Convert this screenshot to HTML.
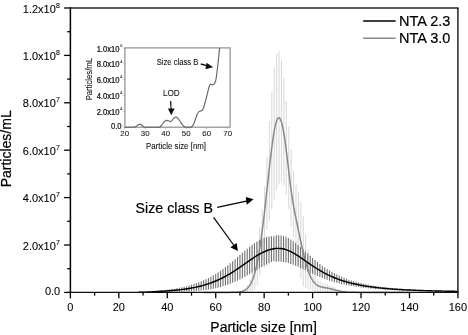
<!DOCTYPE html>
<html><head><meta charset="utf-8"><style>
html,body{margin:0;padding:0;background:#fff;}
svg{display:block;}
</style></head><body>
<svg width="468" height="335" viewBox="0 0 468 335">
<defs><filter id="ib" x="-5%" y="-5%" width="110%" height="110%"><feGaussianBlur stdDeviation="0.35"/></filter></defs>
<rect width="468" height="335" fill="#fff"/>
<line x1="242.71" y1="290.29" x2="242.71" y2="292.25" stroke="#dadada" stroke-width="1.1"/>
<line x1="245.13" y1="288.36" x2="245.13" y2="292.12" stroke="#dadada" stroke-width="1.1"/>
<line x1="247.56" y1="285.02" x2="247.56" y2="291.89" stroke="#dadada" stroke-width="1.1"/>
<line x1="249.98" y1="279.50" x2="249.98" y2="291.50" stroke="#dadada" stroke-width="1.1"/>
<line x1="252.40" y1="270.83" x2="252.40" y2="290.90" stroke="#dadada" stroke-width="1.1"/>
<line x1="254.82" y1="258.15" x2="254.82" y2="289.74" stroke="#dadada" stroke-width="1.1"/>
<line x1="257.24" y1="243.07" x2="257.24" y2="285.28" stroke="#dadada" stroke-width="1.1"/>
<line x1="259.67" y1="226.87" x2="259.67" y2="275.33" stroke="#dadada" stroke-width="1.1"/>
<line x1="262.09" y1="209.24" x2="262.09" y2="259.98" stroke="#dadada" stroke-width="1.1"/>
<line x1="264.51" y1="186.42" x2="264.51" y2="243.68" stroke="#dadada" stroke-width="1.1"/>
<line x1="266.93" y1="156.74" x2="266.93" y2="230.02" stroke="#dadada" stroke-width="1.1"/>
<line x1="269.35" y1="121.05" x2="269.35" y2="221.25" stroke="#dadada" stroke-width="1.1"/>
<line x1="271.78" y1="91.42" x2="271.78" y2="209.36" stroke="#dadada" stroke-width="1.1"/>
<line x1="274.20" y1="67.49" x2="274.20" y2="199.17" stroke="#dadada" stroke-width="1.1"/>
<line x1="276.62" y1="53.98" x2="276.62" y2="189.95" stroke="#dadada" stroke-width="1.1"/>
<line x1="279.04" y1="50.90" x2="279.04" y2="184.58" stroke="#dadada" stroke-width="1.1"/>
<line x1="281.46" y1="60.14" x2="281.46" y2="182.10" stroke="#dadada" stroke-width="1.1"/>
<line x1="283.89" y1="77.91" x2="283.89" y2="185.22" stroke="#dadada" stroke-width="1.1"/>
<line x1="286.31" y1="100.90" x2="286.31" y2="194.68" stroke="#dadada" stroke-width="1.1"/>
<line x1="288.73" y1="126.97" x2="288.73" y2="208.83" stroke="#dadada" stroke-width="1.1"/>
<line x1="291.15" y1="149.35" x2="291.15" y2="226.62" stroke="#dadada" stroke-width="1.1"/>
<line x1="293.57" y1="171.26" x2="293.57" y2="236.70" stroke="#dadada" stroke-width="1.1"/>
<line x1="296.00" y1="184.55" x2="296.00" y2="249.14" stroke="#dadada" stroke-width="1.1"/>
<line x1="298.42" y1="192.19" x2="298.42" y2="264.98" stroke="#dadada" stroke-width="1.1"/>
<line x1="300.84" y1="201.82" x2="300.84" y2="278.44" stroke="#dadada" stroke-width="1.1"/>
<line x1="303.26" y1="216.30" x2="303.26" y2="286.20" stroke="#dadada" stroke-width="1.1"/>
<line x1="305.68" y1="234.08" x2="305.68" y2="288.35" stroke="#dadada" stroke-width="1.1"/>
<line x1="308.11" y1="249.49" x2="308.11" y2="289.42" stroke="#dadada" stroke-width="1.1"/>
<line x1="310.53" y1="261.35" x2="310.53" y2="290.24" stroke="#dadada" stroke-width="1.1"/>
<line x1="312.95" y1="269.89" x2="312.95" y2="290.83" stroke="#dadada" stroke-width="1.1"/>
<line x1="315.37" y1="275.65" x2="315.37" y2="291.24" stroke="#dadada" stroke-width="1.1"/>
<line x1="317.79" y1="279.27" x2="317.79" y2="291.49" stroke="#dadada" stroke-width="1.1"/>
<line x1="320.22" y1="281.41" x2="320.22" y2="291.64" stroke="#dadada" stroke-width="1.1"/>
<line x1="322.64" y1="282.66" x2="322.64" y2="291.72" stroke="#dadada" stroke-width="1.1"/>
<line x1="325.06" y1="283.50" x2="325.06" y2="291.78" stroke="#dadada" stroke-width="1.1"/>
<line x1="327.48" y1="284.28" x2="327.48" y2="291.84" stroke="#dadada" stroke-width="1.1"/>
<line x1="329.90" y1="285.19" x2="329.90" y2="291.90" stroke="#dadada" stroke-width="1.1"/>
<line x1="332.33" y1="286.26" x2="332.33" y2="291.97" stroke="#dadada" stroke-width="1.1"/>
<line x1="334.75" y1="287.45" x2="334.75" y2="292.06" stroke="#dadada" stroke-width="1.1"/>
<line x1="337.17" y1="288.63" x2="337.17" y2="292.14" stroke="#dadada" stroke-width="1.1"/>
<line x1="339.59" y1="289.70" x2="339.59" y2="292.21" stroke="#dadada" stroke-width="1.1"/>
<line x1="342.01" y1="290.59" x2="342.01" y2="292.27" stroke="#dadada" stroke-width="1.1"/>
<line x1="143.06" y1="292.11" x2="143.06" y2="292.36" stroke="#707070" stroke-width="1.1"/>
<line x1="145.48" y1="291.96" x2="145.48" y2="292.34" stroke="#707070" stroke-width="1.1"/>
<line x1="147.90" y1="291.78" x2="147.90" y2="292.31" stroke="#707070" stroke-width="1.1"/>
<line x1="150.33" y1="291.56" x2="150.33" y2="292.28" stroke="#707070" stroke-width="1.1"/>
<line x1="152.75" y1="291.32" x2="152.75" y2="292.25" stroke="#707070" stroke-width="1.1"/>
<line x1="155.17" y1="291.07" x2="155.17" y2="292.21" stroke="#707070" stroke-width="1.1"/>
<line x1="157.59" y1="290.81" x2="157.59" y2="292.17" stroke="#707070" stroke-width="1.1"/>
<line x1="160.01" y1="290.55" x2="160.01" y2="292.14" stroke="#707070" stroke-width="1.1"/>
<line x1="162.44" y1="290.28" x2="162.44" y2="292.10" stroke="#707070" stroke-width="1.1"/>
<line x1="164.86" y1="290.00" x2="164.86" y2="292.06" stroke="#707070" stroke-width="1.1"/>
<line x1="167.28" y1="289.70" x2="167.28" y2="292.01" stroke="#707070" stroke-width="1.1"/>
<line x1="169.70" y1="289.39" x2="169.70" y2="291.97" stroke="#707070" stroke-width="1.1"/>
<line x1="172.12" y1="289.04" x2="172.12" y2="291.92" stroke="#707070" stroke-width="1.1"/>
<line x1="174.55" y1="288.67" x2="174.55" y2="291.87" stroke="#707070" stroke-width="1.1"/>
<line x1="176.97" y1="288.26" x2="176.97" y2="291.81" stroke="#707070" stroke-width="1.1"/>
<line x1="179.39" y1="287.81" x2="179.39" y2="291.74" stroke="#707070" stroke-width="1.1"/>
<line x1="181.81" y1="287.32" x2="181.81" y2="291.67" stroke="#707070" stroke-width="1.1"/>
<line x1="184.23" y1="286.78" x2="184.23" y2="291.60" stroke="#707070" stroke-width="1.1"/>
<line x1="186.66" y1="286.18" x2="186.66" y2="291.51" stroke="#707070" stroke-width="1.1"/>
<line x1="189.08" y1="285.51" x2="189.08" y2="291.42" stroke="#707070" stroke-width="1.1"/>
<line x1="191.50" y1="284.79" x2="191.50" y2="291.31" stroke="#707070" stroke-width="1.1"/>
<line x1="193.92" y1="283.99" x2="193.92" y2="291.20" stroke="#707070" stroke-width="1.1"/>
<line x1="196.34" y1="283.12" x2="196.34" y2="291.06" stroke="#707070" stroke-width="1.1"/>
<line x1="198.77" y1="282.24" x2="198.77" y2="290.84" stroke="#707070" stroke-width="1.1"/>
<line x1="201.19" y1="281.29" x2="201.19" y2="290.59" stroke="#707070" stroke-width="1.1"/>
<line x1="203.61" y1="280.26" x2="203.61" y2="290.30" stroke="#707070" stroke-width="1.1"/>
<line x1="206.03" y1="279.15" x2="206.03" y2="289.97" stroke="#707070" stroke-width="1.1"/>
<line x1="208.45" y1="277.96" x2="208.45" y2="289.61" stroke="#707070" stroke-width="1.1"/>
<line x1="210.88" y1="276.68" x2="210.88" y2="289.20" stroke="#707070" stroke-width="1.1"/>
<line x1="213.30" y1="275.31" x2="213.30" y2="288.74" stroke="#707070" stroke-width="1.1"/>
<line x1="215.72" y1="273.85" x2="215.72" y2="288.22" stroke="#707070" stroke-width="1.1"/>
<line x1="218.14" y1="272.30" x2="218.14" y2="287.65" stroke="#707070" stroke-width="1.1"/>
<line x1="220.56" y1="270.66" x2="220.56" y2="287.02" stroke="#707070" stroke-width="1.1"/>
<line x1="222.99" y1="268.93" x2="222.99" y2="286.33" stroke="#707070" stroke-width="1.1"/>
<line x1="225.41" y1="267.12" x2="225.41" y2="285.57" stroke="#707070" stroke-width="1.1"/>
<line x1="227.83" y1="265.23" x2="227.83" y2="284.74" stroke="#707070" stroke-width="1.1"/>
<line x1="230.25" y1="263.27" x2="230.25" y2="283.83" stroke="#707070" stroke-width="1.1"/>
<line x1="232.67" y1="261.25" x2="232.67" y2="282.86" stroke="#707070" stroke-width="1.1"/>
<line x1="235.10" y1="259.18" x2="235.10" y2="281.81" stroke="#707070" stroke-width="1.1"/>
<line x1="237.52" y1="257.09" x2="237.52" y2="280.69" stroke="#707070" stroke-width="1.1"/>
<line x1="239.94" y1="254.97" x2="239.94" y2="279.50" stroke="#707070" stroke-width="1.1"/>
<line x1="242.36" y1="252.86" x2="242.36" y2="278.25" stroke="#707070" stroke-width="1.1"/>
<line x1="244.78" y1="250.77" x2="244.78" y2="276.94" stroke="#707070" stroke-width="1.1"/>
<line x1="247.21" y1="248.73" x2="247.21" y2="275.58" stroke="#707070" stroke-width="1.1"/>
<line x1="249.63" y1="246.76" x2="249.63" y2="274.18" stroke="#707070" stroke-width="1.1"/>
<line x1="252.05" y1="244.88" x2="252.05" y2="272.75" stroke="#707070" stroke-width="1.1"/>
<line x1="254.47" y1="243.13" x2="254.47" y2="271.31" stroke="#707070" stroke-width="1.1"/>
<line x1="256.89" y1="241.53" x2="256.89" y2="269.86" stroke="#707070" stroke-width="1.1"/>
<line x1="259.32" y1="240.10" x2="259.32" y2="268.43" stroke="#707070" stroke-width="1.1"/>
<line x1="261.74" y1="238.86" x2="261.74" y2="267.03" stroke="#707070" stroke-width="1.1"/>
<line x1="264.16" y1="237.85" x2="264.16" y2="265.68" stroke="#707070" stroke-width="1.1"/>
<line x1="266.58" y1="237.07" x2="266.58" y2="264.40" stroke="#707070" stroke-width="1.1"/>
<line x1="269.00" y1="236.54" x2="269.00" y2="263.21" stroke="#707070" stroke-width="1.1"/>
<line x1="271.43" y1="236.28" x2="271.43" y2="262.12" stroke="#707070" stroke-width="1.1"/>
<line x1="273.85" y1="236.29" x2="273.85" y2="261.15" stroke="#707070" stroke-width="1.1"/>
<line x1="276.27" y1="235.25" x2="276.27" y2="261.63" stroke="#707070" stroke-width="1.1"/>
<line x1="278.69" y1="235.16" x2="278.69" y2="261.58" stroke="#707070" stroke-width="1.1"/>
<line x1="281.11" y1="235.39" x2="281.11" y2="261.70" stroke="#707070" stroke-width="1.1"/>
<line x1="283.54" y1="235.96" x2="283.54" y2="262.01" stroke="#707070" stroke-width="1.1"/>
<line x1="285.96" y1="236.84" x2="285.96" y2="262.48" stroke="#707070" stroke-width="1.1"/>
<line x1="288.38" y1="238.01" x2="288.38" y2="263.12" stroke="#707070" stroke-width="1.1"/>
<line x1="290.80" y1="239.45" x2="290.80" y2="263.89" stroke="#707070" stroke-width="1.1"/>
<line x1="293.22" y1="241.11" x2="293.22" y2="264.78" stroke="#707070" stroke-width="1.1"/>
<line x1="295.65" y1="242.96" x2="295.65" y2="265.78" stroke="#707070" stroke-width="1.1"/>
<line x1="298.07" y1="244.96" x2="298.07" y2="266.85" stroke="#707070" stroke-width="1.1"/>
<line x1="300.49" y1="247.05" x2="300.49" y2="267.98" stroke="#707070" stroke-width="1.1"/>
<line x1="302.91" y1="249.22" x2="302.91" y2="269.15" stroke="#707070" stroke-width="1.1"/>
<line x1="305.33" y1="251.42" x2="305.33" y2="270.33" stroke="#707070" stroke-width="1.1"/>
<line x1="307.76" y1="253.62" x2="307.76" y2="271.52" stroke="#707070" stroke-width="1.1"/>
<line x1="310.18" y1="255.79" x2="310.18" y2="272.69" stroke="#707070" stroke-width="1.1"/>
<line x1="312.60" y1="257.92" x2="312.60" y2="273.84" stroke="#707070" stroke-width="1.1"/>
<line x1="315.02" y1="259.99" x2="315.02" y2="274.95" stroke="#707070" stroke-width="1.1"/>
<line x1="317.44" y1="261.98" x2="317.44" y2="276.02" stroke="#707070" stroke-width="1.1"/>
<line x1="319.87" y1="263.89" x2="319.87" y2="277.05" stroke="#707070" stroke-width="1.1"/>
<line x1="322.29" y1="265.70" x2="322.29" y2="278.02" stroke="#707070" stroke-width="1.1"/>
<line x1="324.71" y1="267.42" x2="324.71" y2="278.95" stroke="#707070" stroke-width="1.1"/>
<line x1="327.13" y1="269.04" x2="327.13" y2="279.82" stroke="#707070" stroke-width="1.1"/>
<line x1="329.55" y1="270.57" x2="329.55" y2="280.64" stroke="#707070" stroke-width="1.1"/>
<line x1="331.98" y1="271.99" x2="331.98" y2="281.41" stroke="#707070" stroke-width="1.1"/>
<line x1="334.40" y1="273.33" x2="334.40" y2="282.13" stroke="#707070" stroke-width="1.1"/>
<line x1="336.82" y1="274.58" x2="336.82" y2="282.80" stroke="#707070" stroke-width="1.1"/>
<line x1="339.24" y1="275.74" x2="339.24" y2="283.43" stroke="#707070" stroke-width="1.1"/>
<line x1="341.66" y1="276.83" x2="341.66" y2="284.01" stroke="#707070" stroke-width="1.1"/>
<line x1="344.09" y1="277.84" x2="344.09" y2="284.56" stroke="#707070" stroke-width="1.1"/>
<line x1="346.51" y1="278.77" x2="346.51" y2="285.06" stroke="#707070" stroke-width="1.1"/>
<line x1="348.93" y1="279.64" x2="348.93" y2="285.53" stroke="#707070" stroke-width="1.1"/>
<line x1="351.35" y1="280.45" x2="351.35" y2="285.96" stroke="#707070" stroke-width="1.1"/>
<line x1="353.77" y1="281.20" x2="353.77" y2="286.37" stroke="#707070" stroke-width="1.1"/>
<line x1="356.20" y1="281.90" x2="356.20" y2="286.74" stroke="#707070" stroke-width="1.1"/>
<line x1="358.62" y1="282.54" x2="358.62" y2="287.09" stroke="#707070" stroke-width="1.1"/>
<line x1="361.04" y1="283.14" x2="361.04" y2="287.41" stroke="#707070" stroke-width="1.1"/>
<line x1="363.46" y1="283.70" x2="363.46" y2="287.71" stroke="#707070" stroke-width="1.1"/>
<line x1="365.88" y1="284.22" x2="365.88" y2="287.99" stroke="#707070" stroke-width="1.1"/>
<line x1="368.31" y1="284.70" x2="368.31" y2="288.25" stroke="#707070" stroke-width="1.1"/>
<line x1="370.73" y1="285.15" x2="370.73" y2="288.49" stroke="#707070" stroke-width="1.1"/>
<line x1="373.15" y1="285.56" x2="373.15" y2="288.72" stroke="#707070" stroke-width="1.1"/>
<line x1="375.57" y1="285.95" x2="375.57" y2="288.93" stroke="#707070" stroke-width="1.1"/>
<line x1="377.99" y1="286.31" x2="377.99" y2="289.12" stroke="#707070" stroke-width="1.1"/>
<line x1="380.42" y1="286.65" x2="380.42" y2="289.30" stroke="#707070" stroke-width="1.1"/>
<line x1="382.84" y1="286.96" x2="382.84" y2="289.47" stroke="#707070" stroke-width="1.1"/>
<line x1="385.26" y1="287.26" x2="385.26" y2="289.63" stroke="#707070" stroke-width="1.1"/>
<line x1="387.68" y1="287.53" x2="387.68" y2="289.78" stroke="#707070" stroke-width="1.1"/>
<line x1="390.10" y1="287.79" x2="390.10" y2="289.92" stroke="#707070" stroke-width="1.1"/>
<line x1="392.53" y1="288.02" x2="392.53" y2="290.04" stroke="#707070" stroke-width="1.1"/>
<line x1="394.95" y1="288.25" x2="394.95" y2="290.16" stroke="#707070" stroke-width="1.1"/>
<line x1="397.37" y1="288.46" x2="397.37" y2="290.28" stroke="#707070" stroke-width="1.1"/>
<line x1="399.79" y1="288.66" x2="399.79" y2="290.38" stroke="#707070" stroke-width="1.1"/>
<line x1="402.21" y1="288.84" x2="402.21" y2="290.48" stroke="#707070" stroke-width="1.1"/>
<line x1="404.64" y1="289.01" x2="404.64" y2="290.58" stroke="#707070" stroke-width="1.1"/>
<line x1="407.06" y1="289.18" x2="407.06" y2="290.66" stroke="#707070" stroke-width="1.1"/>
<line x1="409.48" y1="289.33" x2="409.48" y2="290.75" stroke="#707070" stroke-width="1.1"/>
<line x1="411.90" y1="289.47" x2="411.90" y2="290.82" stroke="#707070" stroke-width="1.1"/>
<line x1="414.32" y1="289.61" x2="414.32" y2="290.90" stroke="#707070" stroke-width="1.1"/>
<line x1="416.75" y1="289.74" x2="416.75" y2="290.97" stroke="#707070" stroke-width="1.1"/>
<line x1="419.17" y1="289.86" x2="419.17" y2="291.03" stroke="#707070" stroke-width="1.1"/>
<line x1="421.59" y1="289.97" x2="421.59" y2="291.09" stroke="#707070" stroke-width="1.1"/>
<line x1="424.01" y1="290.08" x2="424.01" y2="291.15" stroke="#707070" stroke-width="1.1"/>
<line x1="426.43" y1="290.18" x2="426.43" y2="291.20" stroke="#707070" stroke-width="1.1"/>
<line x1="428.86" y1="290.27" x2="428.86" y2="291.25" stroke="#707070" stroke-width="1.1"/>
<line x1="431.28" y1="290.36" x2="431.28" y2="291.30" stroke="#707070" stroke-width="1.1"/>
<line x1="433.70" y1="290.45" x2="433.70" y2="291.35" stroke="#707070" stroke-width="1.1"/>
<line x1="436.12" y1="290.53" x2="436.12" y2="291.39" stroke="#707070" stroke-width="1.1"/>
<line x1="438.54" y1="290.61" x2="438.54" y2="291.43" stroke="#707070" stroke-width="1.1"/>
<line x1="440.97" y1="290.68" x2="440.97" y2="291.47" stroke="#707070" stroke-width="1.1"/>
<line x1="443.39" y1="290.75" x2="443.39" y2="291.51" stroke="#707070" stroke-width="1.1"/>
<line x1="445.81" y1="290.81" x2="445.81" y2="291.55" stroke="#707070" stroke-width="1.1"/>
<line x1="448.23" y1="290.87" x2="448.23" y2="291.58" stroke="#707070" stroke-width="1.1"/>
<line x1="450.65" y1="290.93" x2="450.65" y2="291.61" stroke="#707070" stroke-width="1.1"/>
<line x1="453.08" y1="290.99" x2="453.08" y2="291.64" stroke="#707070" stroke-width="1.1"/>
<line x1="455.50" y1="291.04" x2="455.50" y2="291.67" stroke="#707070" stroke-width="1.1"/>
<line x1="457.92" y1="291.09" x2="457.92" y2="291.70" stroke="#707070" stroke-width="1.1"/>
<path d="M203.61,292.40 L204.22,292.40 L204.82,292.40 L205.43,292.40 L206.03,292.40 L206.64,292.40 L207.24,292.40 L207.85,292.40 L208.45,292.40 L209.06,292.40 L209.67,292.40 L210.27,292.40 L210.88,292.40 L211.48,292.40 L212.09,292.40 L212.69,292.40 L213.30,292.40 L213.90,292.40 L214.51,292.40 L215.11,292.40 L215.72,292.40 L216.33,292.40 L216.93,292.40 L217.54,292.40 L218.14,292.40 L218.75,292.40 L219.35,292.40 L219.96,292.40 L220.56,292.40 L221.17,292.40 L221.78,292.40 L222.38,292.40 L222.99,292.40 L223.59,292.40 L224.20,292.40 L224.80,292.40 L225.41,292.40 L226.01,292.40 L226.62,292.39 L227.22,292.39 L227.83,292.39 L228.44,292.39 L229.04,292.39 L229.65,292.38 L230.25,292.38 L230.86,292.37 L231.46,292.36 L232.07,292.36 L232.67,292.35 L233.28,292.33 L233.89,292.32 L234.49,292.30 L235.10,292.28 L235.70,292.25 L236.31,292.22 L236.91,292.18 L237.52,292.13 L238.12,292.07 L238.73,292.01 L239.33,291.93 L239.94,291.83 L240.55,291.72 L241.15,291.60 L241.76,291.45 L242.36,291.27 L242.97,291.07 L243.57,290.83 L244.18,290.56 L244.78,290.24 L245.39,289.88 L246.00,289.46 L246.60,288.99 L247.21,288.45 L247.81,287.84 L248.42,287.15 L249.02,286.37 L249.63,285.50 L250.23,284.52 L250.84,283.43 L251.44,282.21 L252.05,280.86 L252.66,279.37 L253.26,277.73 L253.87,275.92 L254.47,273.95 L255.08,271.79 L255.68,269.45 L256.29,266.91 L256.89,264.17 L257.50,261.23 L258.11,258.07 L258.71,254.69 L259.32,251.10 L259.92,247.30 L260.53,243.28 L261.13,239.05 L261.74,234.61 L262.34,229.98 L262.95,225.17 L263.55,220.19 L264.16,215.05 L264.77,209.78 L265.37,204.39 L265.98,198.92 L266.58,193.38 L267.19,187.80 L267.79,182.21 L268.40,176.65 L269.00,171.15 L269.61,165.74 L270.22,160.45 L270.82,155.32 L271.43,150.39 L272.03,145.70 L272.64,141.26 L273.24,137.13 L273.85,133.33 L274.45,129.88 L275.06,126.82 L275.66,124.18 L276.27,121.96 L276.88,120.20 L277.48,118.90 L278.09,118.08 L278.69,117.74 L279.30,117.88 L279.90,118.50 L280.51,119.58 L281.11,121.12 L281.72,123.10 L282.33,125.52 L282.93,128.35 L283.54,131.57 L284.14,135.15 L284.75,139.06 L285.35,143.29 L285.96,147.79 L286.56,152.54 L287.17,157.49 L287.77,162.62 L288.38,167.90 L288.99,173.21 L289.59,178.37 L290.20,183.31 L290.80,187.98 L291.41,192.38 L292.01,196.50 L292.62,200.35 L293.22,203.98 L293.83,207.41 L294.44,210.67 L295.04,213.80 L295.65,216.85 L296.25,219.83 L296.86,222.76 L297.46,225.68 L298.07,228.58 L298.67,231.48 L299.28,234.37 L299.88,237.26 L300.49,240.13 L301.10,242.98 L301.70,245.79 L302.31,248.55 L302.91,251.25 L303.52,253.88 L304.12,256.42 L304.73,258.87 L305.33,261.21 L305.94,263.45 L306.55,265.57 L307.15,267.57 L307.76,269.45 L308.36,271.22 L308.97,272.86 L309.57,274.38 L310.18,275.79 L310.78,277.09 L311.39,278.28 L311.99,279.37 L312.60,280.36 L313.21,281.26 L313.81,282.07 L314.42,282.79 L315.02,283.44 L315.63,284.02 L316.23,284.53 L316.84,284.98 L317.44,285.38 L318.05,285.73 L318.66,286.03 L319.26,286.29 L319.87,286.52 L320.47,286.72 L321.08,286.90 L321.68,287.05 L322.29,287.19 L322.89,287.31 L323.50,287.43 L324.10,287.54 L324.71,287.64 L325.32,287.74 L325.92,287.85 L326.53,287.95 L327.13,288.06 L327.74,288.17 L328.34,288.29 L328.95,288.41 L329.55,288.54 L330.16,288.68 L330.76,288.82 L331.37,288.97 L331.98,289.12 L332.58,289.27 L333.19,289.43 L333.79,289.59 L334.40,289.75 L335.00,289.91 L335.61,290.07 L336.21,290.23 L336.82,290.38 L337.43,290.53 L338.03,290.68 L338.64,290.82 L339.24,290.96 L339.85,291.09 L340.45,291.21 L341.06,291.32 L341.66,291.43 L342.27,291.53 L342.88,291.62 L343.48,291.71 L344.09,291.79 L344.69,291.86 L345.30,291.93 L345.90,291.99 L346.51,292.04 L347.11,292.09 L347.72,292.13 L348.32,292.17 L348.93,292.20 L349.54,292.23 L350.14,292.26 L350.75,292.28 L351.35,292.30 L351.96,292.31 L352.56,292.33 L353.17,292.34 L353.77,292.35 L354.38,292.36 L354.99,292.37 L355.59,292.37 L356.20,292.38 L356.80,292.38 L357.41,292.39 L358.01,292.39 L358.62,292.39 L359.22,292.39 L359.83,292.39 L360.43,292.40 L361.04,292.40 L361.65,292.40 L362.25,292.40 L362.86,292.40 L363.46,292.40 L364.07,292.40 L364.67,292.40 L365.28,292.40 L365.88,292.40 L366.49,292.40 L367.10,292.40 L367.70,292.40 L368.31,292.40 L368.91,292.40 L369.52,292.40 L370.12,292.40 L370.73,292.40 L371.33,292.40 L371.94,292.40 L372.54,292.40 L373.15,292.40 L373.76,292.40 L374.36,292.40 L374.97,292.40 L375.57,292.40 L376.18,292.40 L376.78,292.40 L377.39,292.40 L377.99,292.40 L378.60,292.40 L379.21,292.40 L379.81,292.40 L380.42,292.40 L381.02,292.40 L381.63,292.40 L382.23,292.40 L382.84,292.40 L383.44,292.40 L384.05,292.40 L384.65,292.40 L385.26,292.40 L385.87,292.40 L386.47,292.40 L387.08,292.40 L387.68,292.40 L388.29,292.40 L388.89,292.40 L389.50,292.40 L390.10,292.40 L390.71,292.40 L391.32,292.40 L391.92,292.40 L392.53,292.40 L393.13,292.40 L393.74,292.40 L394.34,292.40 L394.95,292.40 L395.55,292.40 L396.16,292.40 L396.76,292.40 L397.37,292.40 L397.98,292.40 L398.58,292.40 L399.19,292.40 L399.79,292.40 L400.40,292.40 L401.00,292.40 L401.61,292.40 L402.21,292.40 L402.82,292.40 L403.43,292.40 L404.03,292.40 L404.64,292.40 L405.24,292.40 L405.85,292.40 L406.45,292.40 L407.06,292.40 L407.66,292.40 L408.27,292.40 L408.87,292.40 L409.48,292.40" fill="none" stroke="#888" stroke-width="1.5"/>
<path d="M138.22,292.33 L139.43,292.31 L140.64,292.29 L141.85,292.27 L143.06,292.23 L144.27,292.19 L145.48,292.15 L146.69,292.10 L147.90,292.05 L149.12,291.99 L150.33,291.92 L151.54,291.85 L152.75,291.78 L153.96,291.71 L155.17,291.64 L156.38,291.56 L157.59,291.49 L158.80,291.42 L160.01,291.34 L161.23,291.26 L162.44,291.19 L163.65,291.11 L164.86,291.03 L166.07,290.94 L167.28,290.86 L168.49,290.77 L169.70,290.68 L170.91,290.58 L172.12,290.48 L173.34,290.38 L174.55,290.27 L175.76,290.16 L176.97,290.04 L178.18,289.91 L179.39,289.78 L180.60,289.64 L181.81,289.50 L183.02,289.35 L184.23,289.19 L185.44,289.02 L186.66,288.84 L187.87,288.66 L189.08,288.47 L190.29,288.26 L191.50,288.05 L192.71,287.83 L193.92,287.59 L195.13,287.35 L196.34,287.09 L197.56,286.82 L198.77,286.54 L199.98,286.25 L201.19,285.94 L202.40,285.62 L203.61,285.28 L204.82,284.93 L206.03,284.56 L207.24,284.18 L208.45,283.78 L209.67,283.37 L210.88,282.94 L212.09,282.49 L213.30,282.02 L214.51,281.54 L215.72,281.04 L216.93,280.51 L218.14,279.98 L219.35,279.42 L220.56,278.84 L221.78,278.24 L222.99,277.63 L224.20,276.99 L225.41,276.34 L226.62,275.67 L227.83,274.98 L229.04,274.27 L230.25,273.55 L231.46,272.81 L232.67,272.05 L233.89,271.28 L235.10,270.50 L236.31,269.70 L237.52,268.89 L238.73,268.07 L239.94,267.24 L241.15,266.40 L242.36,265.56 L243.57,264.71 L244.78,263.86 L246.00,263.01 L247.21,262.16 L248.42,261.31 L249.63,260.47 L250.84,259.64 L252.05,258.82 L253.26,258.01 L254.47,257.22 L255.68,256.45 L256.89,255.69 L258.11,254.97 L259.32,254.26 L260.53,253.59 L261.74,252.95 L262.95,252.34 L264.16,251.76 L265.37,251.23 L266.58,250.74 L267.79,250.28 L269.00,249.88 L270.22,249.51 L271.43,249.20 L272.64,248.93 L273.85,248.72 L275.06,248.55 L276.27,248.44 L277.48,248.38 L278.69,248.37 L279.90,248.43 L281.11,248.55 L282.33,248.73 L283.54,248.98 L284.75,249.29 L285.96,249.66 L287.17,250.09 L288.38,250.56 L289.59,251.09 L290.80,251.67 L292.01,252.29 L293.22,252.95 L294.44,253.64 L295.65,254.37 L296.86,255.13 L298.07,255.90 L299.28,256.70 L300.49,257.52 L301.70,258.35 L302.91,259.18 L304.12,260.03 L305.33,260.87 L306.55,261.72 L307.76,262.57 L308.97,263.41 L310.18,264.24 L311.39,265.07 L312.60,265.88 L313.81,266.68 L315.02,267.47 L316.23,268.24 L317.44,269.00 L318.66,269.74 L319.87,270.47 L321.08,271.17 L322.29,271.86 L323.50,272.53 L324.71,273.18 L325.92,273.82 L327.13,274.43 L328.34,275.03 L329.55,275.60 L330.76,276.16 L331.98,276.70 L333.19,277.23 L334.40,277.73 L335.61,278.22 L336.82,278.69 L338.03,279.15 L339.24,279.59 L340.45,280.01 L341.66,280.42 L342.88,280.82 L344.09,281.20 L345.30,281.56 L346.51,281.92 L347.72,282.26 L348.93,282.59 L350.14,282.90 L351.35,283.21 L352.56,283.50 L353.77,283.78 L354.99,284.06 L356.20,284.32 L357.41,284.57 L358.62,284.82 L359.83,285.05 L361.04,285.28 L362.25,285.50 L363.46,285.71 L364.67,285.91 L365.88,286.11 L367.10,286.29 L368.31,286.48 L369.52,286.65 L370.73,286.82 L371.94,286.98 L373.15,287.14 L374.36,287.29 L375.57,287.44 L376.78,287.58 L377.99,287.72 L379.21,287.85 L380.42,287.98 L381.63,288.10 L382.84,288.22 L384.05,288.33 L385.26,288.44 L386.47,288.55 L387.68,288.65 L388.89,288.75 L390.10,288.85 L391.32,288.94 L392.53,289.03 L393.74,289.12 L394.95,289.21 L396.16,289.29 L397.37,289.37 L398.58,289.45 L399.79,289.52 L401.00,289.59 L402.21,289.66 L403.43,289.73 L404.64,289.79 L405.85,289.86 L407.06,289.92 L408.27,289.98 L409.48,290.04 L410.69,290.09 L411.90,290.15 L413.11,290.20 L414.32,290.25 L415.54,290.30 L416.75,290.35 L417.96,290.40 L419.17,290.44 L420.38,290.49 L421.59,290.53 L422.80,290.57 L424.01,290.61 L425.22,290.65 L426.43,290.69 L427.64,290.73 L428.86,290.76 L430.07,290.80 L431.28,290.83 L432.49,290.87 L433.70,290.90 L434.91,290.93 L436.12,290.96 L437.33,290.99 L438.54,291.02 L439.75,291.05 L440.97,291.08 L442.18,291.10 L443.39,291.13 L444.60,291.15 L445.81,291.18 L447.02,291.20 L448.23,291.23 L449.44,291.25 L450.65,291.27 L451.87,291.29 L453.08,291.31 L454.29,291.34 L455.50,291.36 L456.71,291.38 L457.92,291.39" fill="none" stroke="#000" stroke-width="1.45"/>
<line x1="64.1" y1="292.40" x2="70.4" y2="292.40" stroke="#000" stroke-width="1.3"/>
<line x1="64.1" y1="245.00" x2="70.4" y2="245.00" stroke="#000" stroke-width="1.3"/>
<line x1="64.1" y1="197.60" x2="70.4" y2="197.60" stroke="#000" stroke-width="1.3"/>
<line x1="64.1" y1="150.20" x2="70.4" y2="150.20" stroke="#000" stroke-width="1.3"/>
<line x1="64.1" y1="102.80" x2="70.4" y2="102.80" stroke="#000" stroke-width="1.3"/>
<line x1="64.1" y1="55.40" x2="70.4" y2="55.40" stroke="#000" stroke-width="1.3"/>
<line x1="67.2" y1="268.70" x2="70.4" y2="268.70" stroke="#000" stroke-width="1.3"/>
<line x1="67.2" y1="221.30" x2="70.4" y2="221.30" stroke="#000" stroke-width="1.3"/>
<line x1="67.2" y1="173.90" x2="70.4" y2="173.90" stroke="#000" stroke-width="1.3"/>
<line x1="67.2" y1="126.50" x2="70.4" y2="126.50" stroke="#000" stroke-width="1.3"/>
<line x1="67.2" y1="79.10" x2="70.4" y2="79.10" stroke="#000" stroke-width="1.3"/>
<line x1="67.2" y1="31.70" x2="70.4" y2="31.70" stroke="#000" stroke-width="1.3"/>
<line x1="70.40" y1="292.40" x2="70.40" y2="298.3" stroke="#000" stroke-width="1.3"/>
<line x1="118.84" y1="292.40" x2="118.84" y2="298.3" stroke="#000" stroke-width="1.3"/>
<line x1="167.28" y1="292.40" x2="167.28" y2="298.3" stroke="#000" stroke-width="1.3"/>
<line x1="215.72" y1="292.40" x2="215.72" y2="298.3" stroke="#000" stroke-width="1.3"/>
<line x1="264.16" y1="292.40" x2="264.16" y2="298.3" stroke="#000" stroke-width="1.3"/>
<line x1="312.60" y1="292.40" x2="312.60" y2="298.3" stroke="#000" stroke-width="1.3"/>
<line x1="361.04" y1="292.40" x2="361.04" y2="298.3" stroke="#000" stroke-width="1.3"/>
<line x1="409.48" y1="292.40" x2="409.48" y2="298.3" stroke="#000" stroke-width="1.3"/>
<line x1="457.92" y1="292.40" x2="457.92" y2="298.3" stroke="#000" stroke-width="1.3"/>
<line x1="94.62" y1="292.40" x2="94.62" y2="295.6" stroke="#000" stroke-width="1.3"/>
<line x1="143.06" y1="292.40" x2="143.06" y2="295.6" stroke="#000" stroke-width="1.3"/>
<line x1="191.50" y1="292.40" x2="191.50" y2="295.6" stroke="#000" stroke-width="1.3"/>
<line x1="239.94" y1="292.40" x2="239.94" y2="295.6" stroke="#000" stroke-width="1.3"/>
<line x1="288.38" y1="292.40" x2="288.38" y2="295.6" stroke="#000" stroke-width="1.3"/>
<line x1="336.82" y1="292.40" x2="336.82" y2="295.6" stroke="#000" stroke-width="1.3"/>
<line x1="385.26" y1="292.40" x2="385.26" y2="295.6" stroke="#000" stroke-width="1.3"/>
<line x1="433.70" y1="292.40" x2="433.70" y2="295.6" stroke="#000" stroke-width="1.3"/>
<line x1="64.1" y1="8.0" x2="458.6" y2="8.0" stroke="#222" stroke-width="1.5"/>
<line x1="457.9" y1="8.0" x2="457.9" y2="292.40" stroke="#222" stroke-width="1.5"/>
<line x1="70.4" y1="7.2" x2="70.4" y2="292.40" stroke="#000" stroke-width="1.5"/>
<line x1="69.7" y1="292.40" x2="458.6" y2="292.40" stroke="#111" stroke-width="1.2"/>
<text x="60.2" y="294.60" text-anchor="end" font-size="11" font-family="Liberation Sans, Arial, sans-serif" stroke="#000" stroke-width="0.08">0.0</text>
<text x="55.8" y="249.60" text-anchor="end" font-size="11" font-family="Liberation Sans, Arial, sans-serif" stroke="#000" stroke-width="0.08">2.0x10</text>
<text x="55.9" y="244.60" font-size="7" font-family="Liberation Sans, Arial, sans-serif" stroke="#000" stroke-width="0.08">7</text>
<text x="55.8" y="202.20" text-anchor="end" font-size="11" font-family="Liberation Sans, Arial, sans-serif" stroke="#000" stroke-width="0.08">4.0x10</text>
<text x="55.9" y="197.20" font-size="7" font-family="Liberation Sans, Arial, sans-serif" stroke="#000" stroke-width="0.08">7</text>
<text x="55.8" y="154.80" text-anchor="end" font-size="11" font-family="Liberation Sans, Arial, sans-serif" stroke="#000" stroke-width="0.08">6.0x10</text>
<text x="55.9" y="149.80" font-size="7" font-family="Liberation Sans, Arial, sans-serif" stroke="#000" stroke-width="0.08">7</text>
<text x="55.8" y="107.40" text-anchor="end" font-size="11" font-family="Liberation Sans, Arial, sans-serif" stroke="#000" stroke-width="0.08">8.0x10</text>
<text x="55.9" y="102.40" font-size="7" font-family="Liberation Sans, Arial, sans-serif" stroke="#000" stroke-width="0.08">7</text>
<text x="55.8" y="60.00" text-anchor="end" font-size="11" font-family="Liberation Sans, Arial, sans-serif" stroke="#000" stroke-width="0.08">1.0x10</text>
<text x="55.9" y="55.00" font-size="7" font-family="Liberation Sans, Arial, sans-serif" stroke="#000" stroke-width="0.08">8</text>
<text x="55.8" y="12.60" text-anchor="end" font-size="11" font-family="Liberation Sans, Arial, sans-serif" stroke="#000" stroke-width="0.08">1.2x10</text>
<text x="55.9" y="7.60" font-size="7" font-family="Liberation Sans, Arial, sans-serif" stroke="#000" stroke-width="0.08">8</text>
<text x="70.40" y="311.1" text-anchor="middle" font-size="11" font-family="Liberation Sans, Arial, sans-serif" stroke="#000" stroke-width="0.08">0</text>
<text x="118.84" y="311.1" text-anchor="middle" font-size="11" font-family="Liberation Sans, Arial, sans-serif" stroke="#000" stroke-width="0.08">20</text>
<text x="167.28" y="311.1" text-anchor="middle" font-size="11" font-family="Liberation Sans, Arial, sans-serif" stroke="#000" stroke-width="0.08">40</text>
<text x="215.72" y="311.1" text-anchor="middle" font-size="11" font-family="Liberation Sans, Arial, sans-serif" stroke="#000" stroke-width="0.08">60</text>
<text x="264.16" y="311.1" text-anchor="middle" font-size="11" font-family="Liberation Sans, Arial, sans-serif" stroke="#000" stroke-width="0.08">80</text>
<text x="312.60" y="311.1" text-anchor="middle" font-size="11" font-family="Liberation Sans, Arial, sans-serif" stroke="#000" stroke-width="0.08">100</text>
<text x="361.04" y="311.1" text-anchor="middle" font-size="11" font-family="Liberation Sans, Arial, sans-serif" stroke="#000" stroke-width="0.08">120</text>
<text x="409.48" y="311.1" text-anchor="middle" font-size="11" font-family="Liberation Sans, Arial, sans-serif" stroke="#000" stroke-width="0.08">140</text>
<text x="457.92" y="311.1" text-anchor="middle" font-size="11" font-family="Liberation Sans, Arial, sans-serif" stroke="#000" stroke-width="0.08">160</text>
<text x="263.6" y="331.5" text-anchor="middle" font-size="14" font-family="Liberation Sans, Arial, sans-serif" stroke="#000" stroke-width="0.2">Particle size [nm]</text>
<text transform="translate(11.1,148.8) rotate(-90)" x="0" y="0" text-anchor="middle" font-size="14" font-family="Liberation Sans, Arial, sans-serif" stroke="#000" stroke-width="0.2">Particles/mL</text>
<line x1="363.2" y1="21" x2="395.6" y2="21" stroke="#000" stroke-width="1.6"/>
<line x1="363.2" y1="38.2" x2="395.6" y2="38.2" stroke="#888" stroke-width="1.4"/>
<text x="399.0" y="25.9" font-size="14.5" font-family="Liberation Sans, Arial, sans-serif" stroke="#000" stroke-width="0.2">NTA 2.3</text>
<text x="399.0" y="42.8" font-size="14.5" font-family="Liberation Sans, Arial, sans-serif" stroke="#000" stroke-width="0.2">NTA 3.0</text>
<text x="135.6" y="212.5" font-size="14.2" font-family="Liberation Sans, Arial, sans-serif" stroke="#000" stroke-width="0.2">Size class B</text>
<line x1="217.2" y1="207.3" x2="247.5" y2="200.9" stroke="#000" stroke-width="1.2"/>
<polygon points="253.5,199.2 245.8,197 246.7,204.7" fill="#000"/>
<line x1="213.6" y1="217.4" x2="234" y2="245.5" stroke="#000" stroke-width="1.2"/>
<polygon points="237.9,251 230.3,247.2 236.7,242.9" fill="#000"/>
<g filter="url(#ib)">
<line x1="123.4" y1="127.20" x2="124.8" y2="127.20" stroke="#8a8a8a" stroke-width="0.8"/>
<line x1="123.4" y1="111.36" x2="124.8" y2="111.36" stroke="#8a8a8a" stroke-width="0.8"/>
<line x1="123.4" y1="95.52" x2="124.8" y2="95.52" stroke="#8a8a8a" stroke-width="0.8"/>
<line x1="123.4" y1="79.68" x2="124.8" y2="79.68" stroke="#8a8a8a" stroke-width="0.8"/>
<line x1="123.4" y1="63.84" x2="124.8" y2="63.84" stroke="#8a8a8a" stroke-width="0.8"/>
<line x1="123.4" y1="48.00" x2="124.8" y2="48.00" stroke="#8a8a8a" stroke-width="0.8"/>
<line x1="124" y1="119.28" x2="124.8" y2="119.28" stroke="#8a8a8a" stroke-width="0.8"/>
<line x1="124" y1="103.44" x2="124.8" y2="103.44" stroke="#8a8a8a" stroke-width="0.8"/>
<line x1="124" y1="87.60" x2="124.8" y2="87.60" stroke="#8a8a8a" stroke-width="0.8"/>
<line x1="124" y1="71.76" x2="124.8" y2="71.76" stroke="#8a8a8a" stroke-width="0.8"/>
<line x1="124" y1="55.92" x2="124.8" y2="55.92" stroke="#8a8a8a" stroke-width="0.8"/>
<line x1="124.70" y1="127.2" x2="124.70" y2="128.80" stroke="#8a8a8a" stroke-width="0.8"/>
<line x1="134.95" y1="127.2" x2="134.95" y2="128.10" stroke="#8a8a8a" stroke-width="0.8"/>
<line x1="145.20" y1="127.2" x2="145.20" y2="128.80" stroke="#8a8a8a" stroke-width="0.8"/>
<line x1="155.45" y1="127.2" x2="155.45" y2="128.10" stroke="#8a8a8a" stroke-width="0.8"/>
<line x1="165.70" y1="127.2" x2="165.70" y2="128.80" stroke="#8a8a8a" stroke-width="0.8"/>
<line x1="175.95" y1="127.2" x2="175.95" y2="128.10" stroke="#8a8a8a" stroke-width="0.8"/>
<line x1="186.20" y1="127.2" x2="186.20" y2="128.80" stroke="#8a8a8a" stroke-width="0.8"/>
<line x1="196.45" y1="127.2" x2="196.45" y2="128.10" stroke="#8a8a8a" stroke-width="0.8"/>
<line x1="206.70" y1="127.2" x2="206.70" y2="128.80" stroke="#8a8a8a" stroke-width="0.8"/>
<line x1="216.95" y1="127.2" x2="216.95" y2="128.10" stroke="#8a8a8a" stroke-width="0.8"/>
<line x1="227.20" y1="127.2" x2="227.20" y2="128.80" stroke="#8a8a8a" stroke-width="0.8"/>
<rect x="124.9" y="47.9" width="105.2" height="79.3" fill="none" stroke="#9a9a9a" stroke-width="1.35"/>
<text transform="translate(121.5,128.50) scale(1,1.1)" text-anchor="end" font-size="7.6" font-family="Liberation Sans, Arial, sans-serif" stroke="#111" stroke-width="0.22" fill="#111">0.0</text>
<text transform="translate(119.4,114.86) scale(1,1.1)" text-anchor="end" font-size="7.6" font-family="Liberation Sans, Arial, sans-serif" stroke="#111" stroke-width="0.22" fill="#111">2.0x10</text>
<text x="120.2" y="110.16" font-size="3.9" font-family="Liberation Sans, Arial, sans-serif" fill="#222" stroke="#333" stroke-width="0.12">4</text>
<text transform="translate(119.4,99.02) scale(1,1.1)" text-anchor="end" font-size="7.6" font-family="Liberation Sans, Arial, sans-serif" stroke="#111" stroke-width="0.22" fill="#111">4.0x10</text>
<text x="120.2" y="94.32" font-size="3.9" font-family="Liberation Sans, Arial, sans-serif" fill="#222" stroke="#333" stroke-width="0.12">4</text>
<text transform="translate(119.4,83.18) scale(1,1.1)" text-anchor="end" font-size="7.6" font-family="Liberation Sans, Arial, sans-serif" stroke="#111" stroke-width="0.22" fill="#111">6.0x10</text>
<text x="120.2" y="78.48" font-size="3.9" font-family="Liberation Sans, Arial, sans-serif" fill="#222" stroke="#333" stroke-width="0.12">4</text>
<text transform="translate(119.4,67.34) scale(1,1.1)" text-anchor="end" font-size="7.6" font-family="Liberation Sans, Arial, sans-serif" stroke="#111" stroke-width="0.22" fill="#111">8.0x10</text>
<text x="120.2" y="62.64" font-size="3.9" font-family="Liberation Sans, Arial, sans-serif" fill="#222" stroke="#333" stroke-width="0.12">4</text>
<text transform="translate(119.4,51.50) scale(1,1.1)" text-anchor="end" font-size="7.6" font-family="Liberation Sans, Arial, sans-serif" stroke="#111" stroke-width="0.22" fill="#111">1.0x10</text>
<text x="120.2" y="46.80" font-size="3.9" font-family="Liberation Sans, Arial, sans-serif" fill="#222" stroke="#333" stroke-width="0.12">5</text>
<text x="124.70" y="136" text-anchor="middle" font-size="7.8" font-family="Liberation Sans, Arial, sans-serif" stroke="#111" stroke-width="0.07" fill="#111">20</text>
<text x="145.20" y="136" text-anchor="middle" font-size="7.8" font-family="Liberation Sans, Arial, sans-serif" stroke="#111" stroke-width="0.07" fill="#111">30</text>
<text x="165.70" y="136" text-anchor="middle" font-size="7.8" font-family="Liberation Sans, Arial, sans-serif" stroke="#111" stroke-width="0.07" fill="#111">40</text>
<text x="186.20" y="136" text-anchor="middle" font-size="7.8" font-family="Liberation Sans, Arial, sans-serif" stroke="#111" stroke-width="0.07" fill="#111">50</text>
<text x="206.70" y="136" text-anchor="middle" font-size="7.8" font-family="Liberation Sans, Arial, sans-serif" stroke="#111" stroke-width="0.07" fill="#111">60</text>
<text x="227.70" y="136" text-anchor="middle" font-size="7.8" font-family="Liberation Sans, Arial, sans-serif" stroke="#111" stroke-width="0.07" fill="#111">70</text>
<text transform="translate(176,148.9) scale(1,1.18)" text-anchor="middle" font-size="7.9" font-family="Liberation Sans, Arial, sans-serif" stroke="#111" stroke-width="0.07" fill="#111">Particle size [nm]</text>
<text transform="translate(92.1,79.2) rotate(-90) scale(1,1.18)" text-anchor="middle" font-size="7.7" font-family="Liberation Sans, Arial, sans-serif" stroke="#111" stroke-width="0.07" fill="#111">Particles/mL</text>
<text transform="translate(156.7,65.0) scale(1,1.22)" font-size="7.65" font-family="Liberation Sans, Arial, sans-serif" stroke="#111" stroke-width="0.07" fill="#111">Size class B</text>
<text x="162.9" y="95.7" font-size="8.2" font-family="Liberation Sans, Arial, sans-serif" stroke="#111" stroke-width="0.07" fill="#111">LOD</text>
<line x1="200.8" y1="64.0" x2="207.5" y2="65.8" stroke="#111" stroke-width="1.3"/>
<polygon points="213.2,67.2 206.6,62.8 205.4,69.2" fill="#111"/>
<line x1="170.6" y1="101" x2="171.1" y2="109.5" stroke="#111" stroke-width="1.15"/>
<polygon points="171.3,115.2 167.9,108.6 174.6,108.6" fill="#111"/>
<path d="M124.7,127.2 L133.5,127.2 L136,126.6 L138,124.9 L139.8,124.2 L141.5,124.9 L143.5,126.7 L145,127.2 L159.5,127.2 L161.5,125.5 L164,122 L166.5,120.2 L168.5,120.8 L170,121.6 L171.5,121.2 L173.5,118.5 L175.7,117 L177.5,117.8 L179.5,120.5 L182,124.4 L184.5,126.8 L186,127.2 L191.5,127.2 L193.6,124.4 L195.5,119 L197.3,114 L199,111.5 L200.6,111.1 L202.2,110.3 L203.5,108 L205.5,101 L208,91.1 L209.5,85.5 L210.6,84 L212.3,85 L214.2,83.9 L215.5,81.5 L216.3,77.5 L217.2,70 L217.9,64.6 L218.8,56 L219.6,47.9" fill="none" stroke="#666" stroke-width="1.15" stroke-linejoin="round"/>
</g>
</svg>
</body></html>
